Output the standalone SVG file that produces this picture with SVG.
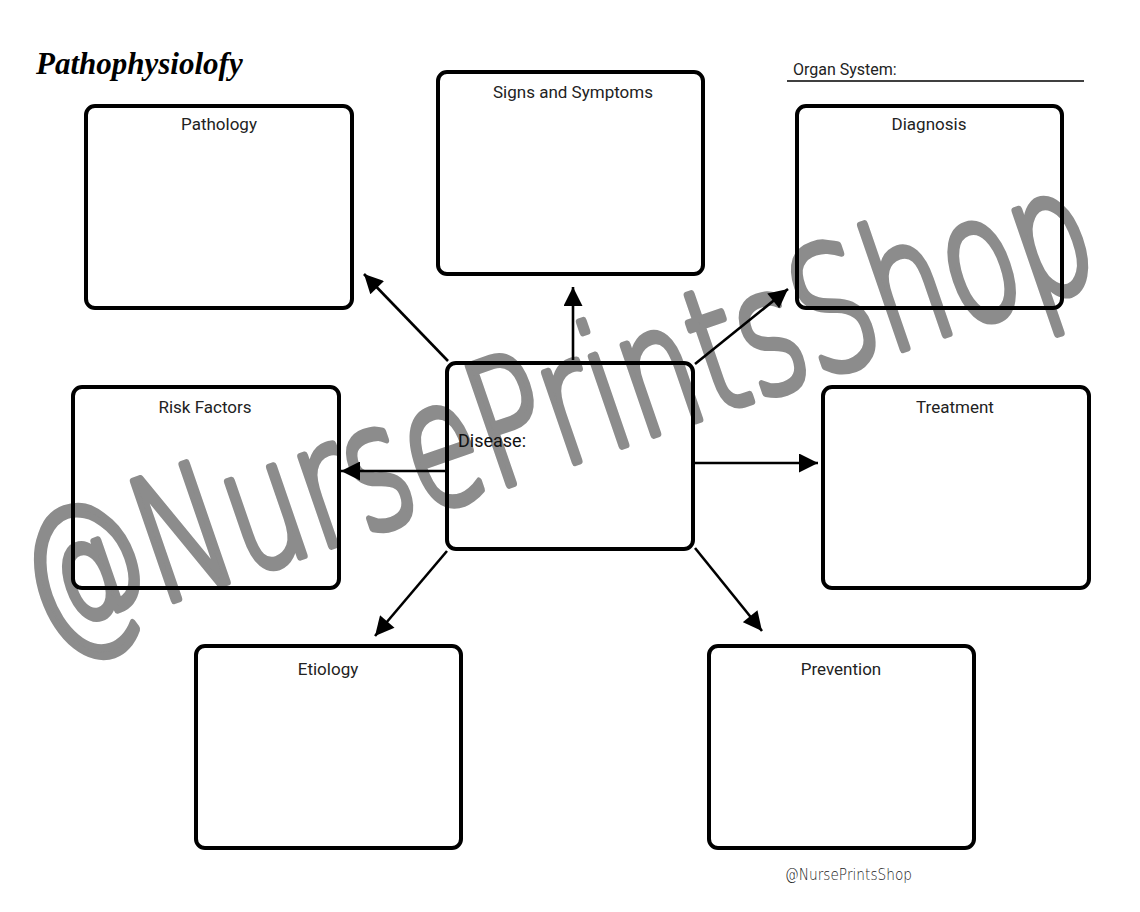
<svg xmlns="http://www.w3.org/2000/svg" width="1140" height="912" viewBox="0 0 1140 912">
<style>
.box{fill:none;stroke:#000;stroke-width:4}
.lbl{font-family:Roboto,"Liberation Sans",sans-serif;font-size:17px;fill:#222;text-anchor:middle}
.con{stroke:#000;stroke-width:2.6;fill:none;marker-end:url(#ah)}
</style>
<defs>
<marker id="ah" viewBox="0 0 10 10" refX="10" refY="5" markerUnits="userSpaceOnUse" markerWidth="20" markerHeight="19" orient="auto">
<path d="M0,0 L10,5 L0,10 z" fill="#000"/>
</marker>
<marker id="ahb" viewBox="0 0 10 10" refX="10" refY="5" markerUnits="userSpaceOnUse" markerWidth="18" markerHeight="24" orient="auto">
<path d="M0,0 L10,5 L0,10 z" fill="#000"/>
</marker>
</defs>
<rect width="1140" height="912" fill="#fff"/>
<g id="watermark">
<text x="0" y="0" transform="translate(575,462) rotate(-19)" text-anchor="middle" font-family="'DejaVu Sans',sans-serif" font-weight="200" font-size="172" fill="#8c8c8c" stroke="#8c8c8c" stroke-width="8" stroke-linejoin="round" textLength="1120" lengthAdjust="spacingAndGlyphs">@NursePrintsShop</text>
</g>
<text x="36" y="74" font-family="'Liberation Serif',serif" font-style="italic" font-weight="bold" font-size="31" fill="#000">Pathophysiolofy</text>
<g id="organ-system">
<text x="793" y="75" font-family="Roboto,'Liberation Sans',sans-serif" font-size="16" fill="#222">Organ System:</text>
<line x1="787" y1="81" x2="1084" y2="81" stroke="#000" stroke-width="1.6"/>
</g>
<g id="connectors">
<line class="con" x1="448" y1="361" x2="364" y2="274"/>
<line class="con" x1="573" y1="360" x2="573" y2="287" marker-end="url(#ahb)"/>
<line class="con" x1="695" y1="364" x2="788" y2="289"/>
<line class="con" x1="446" y1="471" x2="341" y2="471"/>
<line class="con" x1="695" y1="463" x2="818" y2="463"/>
<line class="con" x1="447" y1="551" x2="375" y2="636"/>
<line class="con" x1="695" y1="548" x2="762" y2="631"/>
</g>
<g id="pathology"><rect class="box" x="86" y="106" width="266" height="202" rx="9"/><text class="lbl" x="219" y="130">Pathology</text></g>
<g id="signs-symptoms"><rect class="box" x="438" y="72" width="265" height="202" rx="9"/><text class="lbl" x="573" y="98">Signs and Symptoms</text></g>
<g id="diagnosis"><rect class="box" x="797" y="106" width="265" height="202" rx="9"/><text class="lbl" x="929" y="130">Diagnosis</text></g>
<g id="risk-factors"><rect class="box" x="73" y="387" width="266" height="201" rx="9"/><text class="lbl" x="205" y="413">Risk Factors</text></g>
<g id="disease"><rect class="box" x="447" y="363" width="246" height="186" rx="9"/><text x="458" y="447" font-family="Roboto,'Liberation Sans',sans-serif" font-size="18" fill="#111">Disease:</text></g>
<g id="treatment"><rect class="box" x="823" y="387" width="266" height="201" rx="9"/><text class="lbl" x="955" y="413">Treatment</text></g>
<g id="etiology"><rect class="box" x="196" y="646" width="265" height="202" rx="9"/><text class="lbl" x="328" y="675">Etiology</text></g>
<g id="prevention"><rect class="box" x="709" y="646" width="265" height="202" rx="9"/><text class="lbl" x="841" y="675">Prevention</text></g>
<text x="785" y="880" font-family="'DejaVu Sans',sans-serif" font-weight="200" font-size="16" fill="#222" textLength="127" lengthAdjust="spacingAndGlyphs">@NursePrintsShop</text>
</svg>
